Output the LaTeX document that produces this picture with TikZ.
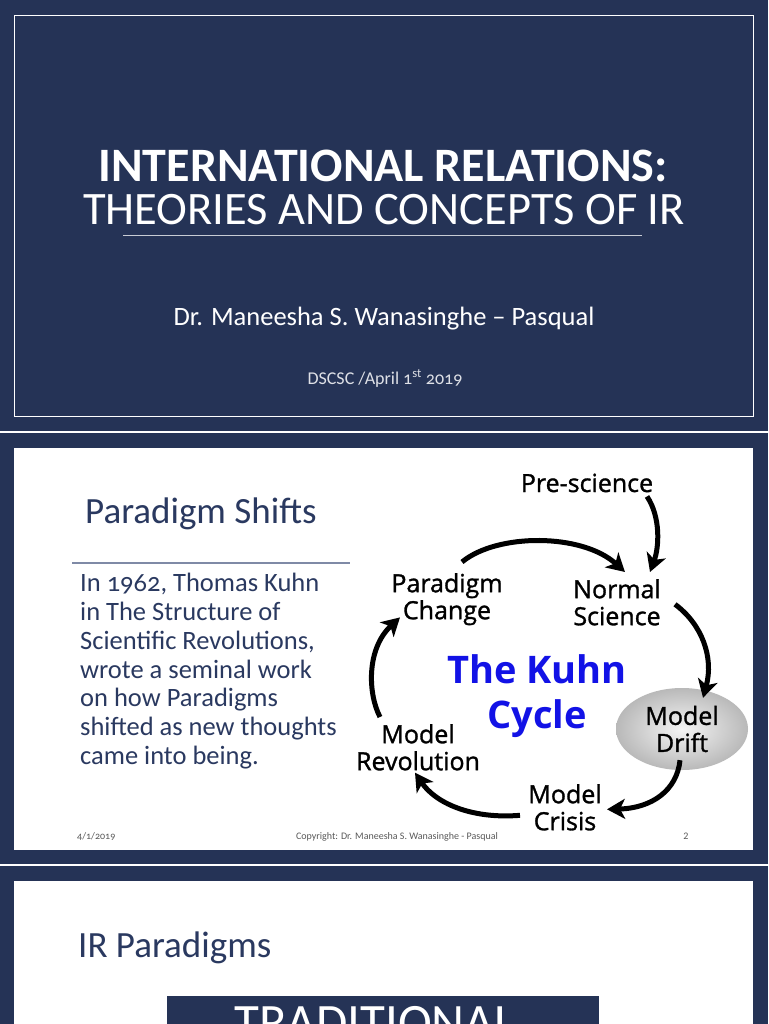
\documentclass[tikz,border=0pt]{standalone}
\usepackage{fontspec}
\setmainfont{Carlito}
\newfontfamily\kf{Open Sans}[UprightFeatures={FakeBold=1.2}]
\newfontfamily\kfb{Open Sans}
\usetikzlibrary{arrows.meta,shapes.geometric,calc}
\definecolor{navy}{HTML}{253356}
\definecolor{slidetext}{HTML}{2A3960}
\definecolor{ruleblue}{HTML}{7F8AA6}
\definecolor{footgray}{HTML}{595959}
\definecolor{kuhnblue}{RGB}{18,18,230}
\begin{document}
\begin{tikzpicture}[x=1pt,y=-1pt,
  lab/.style={font=\kf\fontsize{25}{27}\selectfont, align=center, inner sep=0pt, text=black},
  kuhnarrow/.style={line width=5pt, -{Stealth[length=18pt,width=20pt,inset=5pt]}},
  foot/.style={font=\fontsize{10}{10}\selectfont, text=footgray, inner sep=0pt, anchor=base},
  stitle/.style={font=\fontsize{37}{37}\selectfont, text=slidetext, inner sep=0pt, anchor=base west}]
\useasboundingbox (0,0) rectangle (768,1024);
\clip (0,0) rectangle (768,1024);
\fill[navy] (0,0) rectangle (768,1024);
% slide 1
\draw[white, line width=1pt] (14,16) rectangle (753,416);
\node[anchor=base, inner sep=0pt, text=white, font=\fontsize{48}{48}\selectfont\bfseries] (t1) at (383,182) {INTERNATIONAL RELATIONS:};
\node[anchor=base, inner sep=0pt, text=white, font=\fontsize{46.5}{46.5}\selectfont] (t2) at (384,225) {THEORIES AND CONCEPTS OF IR};
\draw[white!75!navy, line width=1pt] (123,235) -- (642,235);
\node[anchor=base, inner sep=0pt, text=white, font=\fontsize{26.5}{26.5}\selectfont] (author) at (384,325) {Dr. Maneesha S. Wanasinghe -- Pasqual};
\node[anchor=base, inner sep=0pt, text=white!85!navy, font=\fontsize{18}{18}\selectfont\addfontfeatures{Numbers=OldStyle}] (date) at (385,384) {DSCSC /April 1\textsuperscript{st} 2019};
\draw[white, line width=1.5pt] (0,432) -- (768,432);
% slide 2
\fill[white] (14,448) rectangle (753,850);
\node[stitle] (ps) at (85,523) {Paradigm Shifts};
\draw[ruleblue, line width=1.5pt] (72,563) -- (350,563);
\node[anchor=north west, align=left, inner sep=0pt, text=slidetext, font=\fontsize{26.5}{28.8}\selectfont\addfontfeatures{Numbers=OldStyle}] (body) at (80,573)
 {In 1962, Thomas Kuhn\\in The Structure of\\Scientific Revolutions,\\wrote a seminal work\\on how Paradigms\\shifted as new thoughts\\came into being.};
\node[foot, anchor=base west, font=\fontsize{10}{10}\selectfont\addfontfeatures{Numbers=OldStyle}] (fdate) at (77,839) {4/1/2019};
\node[foot] (fcopy) at (397,839) {Copyright: Dr. Maneesha S. Wanasinghe - Pasqual};
\node[foot] (fnum) at (686,839) {2};
% Kuhn cycle
\node[lab, anchor=base] (pre) at (587,492) {Pre-science};
\node[lab, anchor=north] (normal) at (617,579) {Normal\\Science};
\node[lab, anchor=north] (para) at (447,573) {Paradigm\\Change};
\node[font=\kfb\bfseries\fontsize{38}{45}\selectfont, text=kuhnblue, align=center, inner sep=0pt, anchor=north] (kuhn) at (537,654) {The Kuhn\\Cycle};
\node[lab, ellipse, minimum width=132pt, minimum height=82pt, inner color=gray!8, outer color=gray!55] (drift) at (682,729) {Model\\Drift};
\node[lab, anchor=north] (rev) at (418,724) {Model\\Revolution};
\node[lab, anchor=north] (crisis) at (565,784) {Model\\Crisis};
\draw[kuhnarrow] ($(pre.south)+(60,4)$) .. controls ($(pre.south)+(74,25)$) and ($(pre.south)+(72,55)$) .. ($(normal.north)+(33,-7)$);
\draw[kuhnarrow] ($(para.north)+(15,-11)$) .. controls ($(para.north)+(50,-40)$) and ($(para.north)+(135,-40)$) .. ($(normal.north)+(8,-7)$);
\draw[kuhnarrow] ($(normal.center)+(58,2)$) .. controls ($(normal.center)+(85,22)$) and ($(normal.center)+(97,55)$) .. ($(drift.north)+(21,10)$);
\draw[kuhnarrow] ($(drift.south)+(-2,-10)$) .. controls ($(drift.south)+(-5,20)$) and ($(drift.south)+(-30,38)$) .. ($(crisis.center)+(42,2)$);
\draw[kuhnarrow] ($(crisis.center)+(-45,8)$) .. controls ($(crisis.center)+(-95,12)$) and ($(crisis.center)+(-130,-5)$) .. ($(rev.south)+(-3,2)$);
\draw[kuhnarrow] ($(rev.north)+(-38,-7)$) .. controls ($(rev.north)+(-50,-30)$) and ($(rev.north)+(-52,-75)$) .. ($(para.south)+(-47,-8)$);
\draw[white, line width=1.5pt] (0,865) -- (768,865);
% slide 3
\fill[white] (14,881) rectangle (753,1030);
\node[stitle] (irp) at (78,957) {IR Paradigms};
\fill[navy] (167,996) rectangle (599,1030);
\node[anchor=base, inner sep=0pt, text=white, font=\fontsize{51}{51}\selectfont] (trad) at (375,1039) {TRADITIONAL};
\end{tikzpicture}
\end{document}
